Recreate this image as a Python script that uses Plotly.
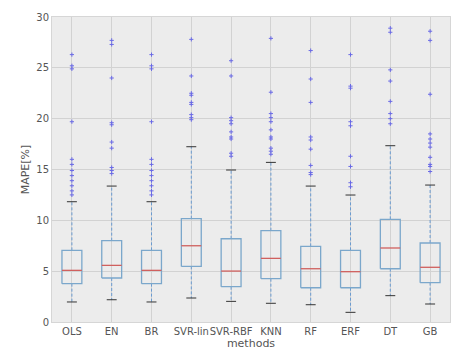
import plotly.graph_objects as go

methods = ["OLS", "EN", "BR", "SVR-lin", "SVR-RBF", "KNN", "RF", "ERF", "DT", "GB"]
q1 = [3.77, 4.33, 3.77, 5.47, 3.47, 4.26, 3.37, 3.37, 5.24, 3.87]
median = [5.08, 5.57, 5.08, 7.50, 5.01, 6.26, 5.24, 4.95, 7.28, 5.38]
q3 = [7.05, 8.00, 7.05, 10.16, 8.19, 8.98, 7.44, 7.05, 10.10, 7.77]
lower_whisker = [1.97, 2.19, 1.97, 2.36, 2.03, 1.84, 1.70, 0.95, 2.59, 1.77]
upper_whisker = [11.83, 13.37, 11.83, 17.24, 14.95, 15.70, 13.37, 12.49, 17.34, 13.47]
outliers = [
    [26.3, 25.2, 24.9, 19.7, 16.0, 15.5, 14.9, 14.4, 13.9, 13.4, 12.9, 12.5],
    [27.7, 27.3, 24.0, 19.6, 19.4, 17.7, 17.1, 15.2, 14.9, 14.6],
    [26.3, 25.2, 24.9, 19.7, 16.0, 15.5, 14.9, 14.4, 13.9, 13.4, 12.9, 12.5],
    [27.8, 24.2, 22.5, 22.3, 21.6, 21.4, 20.4, 20.1, 19.9],
    [25.7, 24.2, 20.1, 19.8, 19.5, 18.7, 18.2, 18.0, 16.6, 16.3],
    [27.9, 22.6, 20.5, 20.1, 19.7, 18.9, 18.2, 18.0, 17.1, 16.8, 16.5],
    [26.7, 23.9, 21.6, 18.2, 17.9, 17.0, 15.4, 14.7, 14.5],
    [26.3, 23.2, 23.0, 19.7, 19.3, 16.3, 15.3, 13.7, 13.3],
    [28.9, 28.5, 24.8, 23.7, 21.7, 20.5, 20.0, 19.5],
    [28.6, 27.7, 22.4, 18.5, 18.0, 17.6, 17.2, 16.2, 15.5, 15.3, 14.8],
]
y_ticks = [0, 5, 10, 15, 20, 25, 30]

positions = list(range(1, len(methods) + 1))
half_box = 0.25
half_cap = 0.125

bx, by, mx, my, wx, wy, cx, cy, fx, fy = ([] for _ in range(10))
for i, p in enumerate(positions):
    bx += [p - half_box, p + half_box, p + half_box, p - half_box, p - half_box, None]
    by += [q1[i], q1[i], q3[i], q3[i], q1[i], None]
    mx += [p - half_box, p + half_box, None]
    my += [median[i], median[i], None]
    wx += [p, p, None, p, p, None]
    wy += [q3[i], upper_whisker[i], None, q1[i], lower_whisker[i], None]
    cx += [p - half_cap, p + half_cap, None, p - half_cap, p + half_cap, None]
    cy += [upper_whisker[i], upper_whisker[i], None, lower_whisker[i], lower_whisker[i], None]
    fx += [p] * len(outliers[i])
    fy += outliers[i]

fig = go.Figure()
fig.add_trace(go.Scatter(x=wx, y=wy, mode="lines",
                         line=dict(color="#6b9bd0", width=1, dash="3px,2px"), hoverinfo="skip"))
fig.add_trace(go.Scatter(x=bx, y=by, mode="lines",
                         line=dict(color="#7ba7cb", width=1.3), hoverinfo="skip"))
fig.add_trace(go.Scatter(x=mx, y=my, mode="lines",
                         line=dict(color="#d0605e", width=1.3), hoverinfo="skip"))
fig.add_trace(go.Scatter(x=cx, y=cy, mode="lines",
                         line=dict(color="#333333", width=1), hoverinfo="skip"))
fig.add_trace(go.Scatter(x=fx, y=fy, mode="markers",
                         marker=dict(symbol="cross-thin-open", size=3, color="#6a6ae6",
                                     line=dict(color="#6a6ae6", width=1)),
                         hoverinfo="skip"))

# the page body has an 8px margin, so the figure is sized/offset to compensate
fig.update_layout(
    width=466, height=353,
    margin=dict(l=44, r=24, t=9, b=39),
    paper_bgcolor="white",
    plot_bgcolor="#ececec",
    showlegend=False,
    font=dict(family="DejaVu Sans", size=10, color="#555555"),
)
fig.update_xaxes(
    range=[0.5, 10.5], tickvals=positions, ticktext=methods, tickangle=0,
    automargin=False, tickfont=dict(size=10),
    showgrid=True, gridcolor="#d2d2d2", gridwidth=1, zeroline=False,
    showline=True, mirror=True, linecolor="#d6d6d6", linewidth=1,
    ticks="", title=dict(text="methods", standoff=3, font=dict(size=11, color="#555555")),
)
fig.update_yaxes(
    range=[0, 30], tickvals=y_ticks, automargin=False, tickfont=dict(size=10),
    showgrid=True, gridcolor="#d2d2d2", gridwidth=1, zeroline=False,
    showline=True, mirror=True, linecolor="#d6d6d6", linewidth=1,
    ticks="", title=dict(text="MAPE[%]", standoff=4, font=dict(size=11, color="#555555")),
)

fig.write_html("out.html")
